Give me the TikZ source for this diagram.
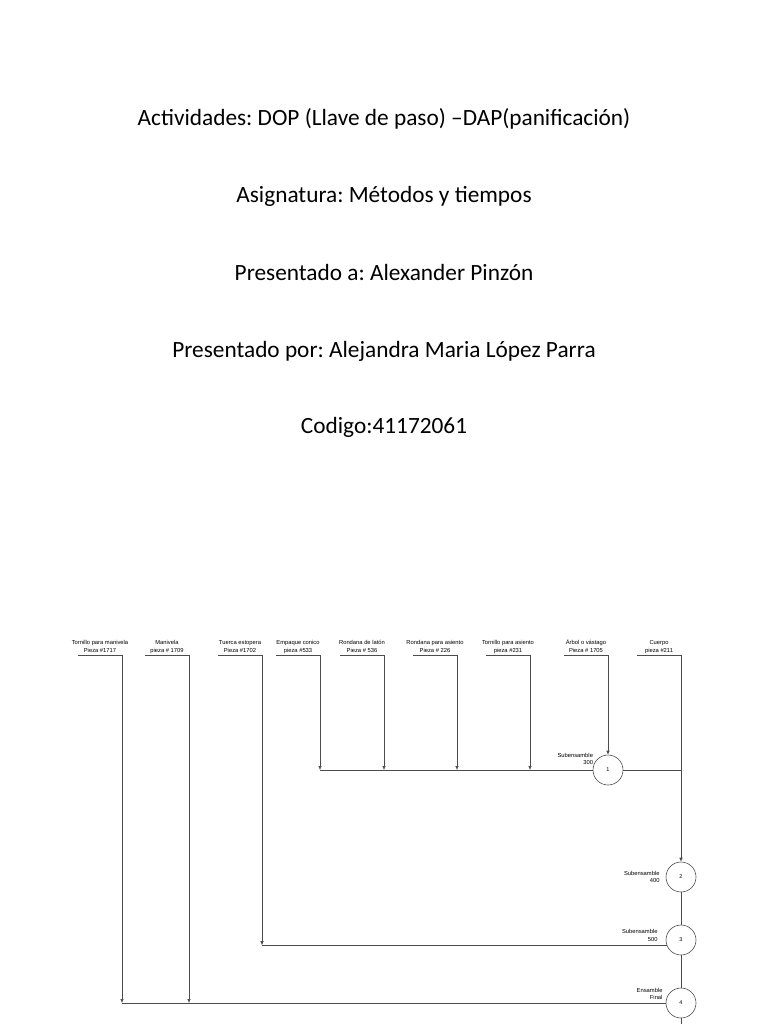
\documentclass[tikz,border=0pt]{standalone}
\usepackage{fontspec}
\setmainfont{Carlito}
\newfontfamily\arialf{Liberation Sans}
\usetikzlibrary{arrows.meta}
\usetikzlibrary{positioning}
\frenchspacing

\tikzset{
  pieza/.style={font=\arialf\fontsize{5.8}{7.4}\selectfont, align=center, inner sep=1pt, text depth=1.2pt, anchor=south},
  etiq/.style={font=\arialf\fontsize{5.8}{7.4}\selectfont, align=right, inner sep=1pt},
  oper/.style={circle, draw=black!70, line width=0.6pt, minimum size=30pt, inner sep=0pt, font=\arialf\fontsize{5.5}{7}\selectfont},
  linea/.style={draw=black!70, line width=0.6pt},
  flecha/.style={linea, -{Latex[length=4pt,width=3.5pt]}},
  titulo/.style={font=\fontsize{23.3}{28}\selectfont, anchor=base}
}

\begin{document}
\begin{tikzpicture}[x=1pt,y=-1pt]
        \useasboundingbox (0,0) rectangle (768,1024);
        % encabezado
        \node[titulo] (t1) at (384,126) {Actividades: DOP (Llave de paso) –DAP(panificación)};
        \node[titulo] (t2) at (384,203) {Asignatura: Métodos y tiempos};
        \node[titulo] (t3) at (384,280) {Presentado a: Alexander Pinzón};
        \node[titulo] (t4) at (384,357) {Presentado por: Alejandra Maria López Parra};
        \node[titulo] (t5) at (384,433) {Codigo:41172061};
        % piezas
        \foreach \n/\x/\t in {%
          p1/122/{Tornillo para manivela\\Pieza \#1717},
          p2/189/{Manivela\\pieza \# 1709},
          p3/262/{Tuerca estopera\\Pieza \#1702},
          p4/320/{Empaque conico\\pieza \#533},
          p5/384/{Rondana de latón\\Pieza \# 536},
          p6/457/{Rondana para asiento\\Pieza \# 226},
          p7/530/{Tornillo  para asiento\\pieza \#231},
          p8/608/{Árbol o vástago\\Pieza \# 1705},
          p9/681/{Cuerpo\\pieza \#211}} {
            \coordinate (\n-a) at (\x-44,655);
            \coordinate (\n-b) at (\x,655);
            \node[pieza] (\n) at (\x-22,654.5) {\t};
        }
        % operaciones
        \node[oper] (o1) at (608,770) {1};
        \node[oper] (o2) at (681,877) {2};
        \node[oper] (o3) at (681,940) {3};
        \node[oper] (o4) at (681,1003) {4};
        \coordinate (fin) at (681,1024);
        \node[etiq, left=3pt of o1.north west] (e1) {Subensamble\\300};
        \node[etiq, left=5pt of o2] (e2) {Subensamble\\400};
        \node[etiq, left=7pt of o3, yshift=4.5pt] (e3) {Subensamble\\500};
        \node[etiq, left=2pt of o4, yshift=9pt] (e4) {Ensamble\\Final};
        % lineas
        \foreach \n in {p4,p5,p6,p7} {
          \draw[flecha] (\n-a) -- (\n-b) -- (\n-b |- o1.west);
        }
        \draw[flecha] (p8-a) -- (p8-b) -- (o1.north);
        \draw[flecha] (p9-a) -- (p9-b) -- (o2.north);
        \draw[flecha] (p3-a) -- (p3-b) -- (p3-b |- o3.200);
        \foreach \n in {p1,p2} {
          \draw[flecha] (\n-a) -- (\n-b) -- (\n-b |- o4.west);
        }
        \draw[linea] (o1.west) -- (p4-b |- o1.west);
        \draw[linea] (o1.east) -- (p9-b |- o1.east);
        \draw[linea] (o2.south) -- (o3.north);
        \draw[linea] (o3.south) -- (o4.north);
        \draw[linea] (o3.200) -- (p3-b |- o3.200);
        \draw[linea] (o4.west) -- (p1-b |- o4.west);
        \draw[linea] (o4.south) -- (fin);
\end{tikzpicture}
\end{document}
